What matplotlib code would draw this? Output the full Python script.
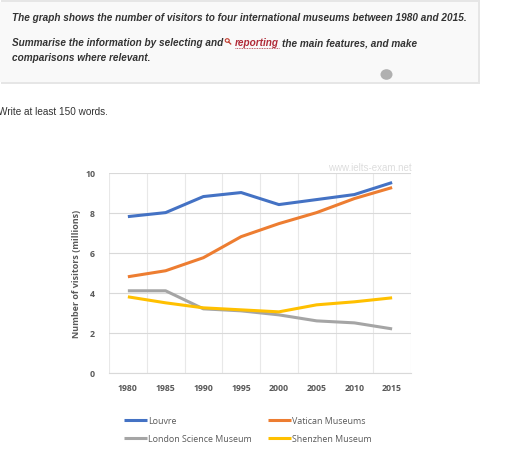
import matplotlib
matplotlib.use("Agg")
import matplotlib.pyplot as plt
from matplotlib.patches import Rectangle, Circle
from matplotlib.lines import Line2D

# data
years = ["1980", "1985", "1990", "1995", "2000", "2005", "2010", "2015"]
louvre = [7.8, 8.0, 8.8, 9.0, 8.4, 8.65, 8.9, 9.5]
vatican = [4.8, 5.1, 5.75, 6.8, 7.45, 8.0, 8.7, 9.25]
london = [4.1, 4.1, 3.2, 3.1, 2.9, 2.6, 2.5, 2.2]
shenzhen = [3.8, 3.5, 3.25, 3.15, 3.05, 3.4, 3.55, 3.75]
names = ["Louvre", "Vatican Museums", "London Science Museum", "Shenzhen Museum"]
colors = ["#4472C4", "#ED7D31", "#A5A5A5", "#FFC000"]

W, H = 512, 452
fig = plt.figure(figsize=(W / 100, H / 100), dpi=100)
fig.patch.set_facecolor("white")


def fx(px):
    return px / W


def fy(py):
    return 1 - py / H


# question box with a soft shadow
fig.patches.append(Rectangle((fx(1), fy(85)), fx(479), 84 / H, transform=fig.transFigure,
                             facecolor="#e6e6e6", edgecolor="none", zorder=0))
fig.patches.append(Rectangle((fx(0), fy(83)), fx(478), 80 / H, transform=fig.transFigure,
                             facecolor="#f9f9f9", edgecolor="none", zorder=1))
fig.patches.append(Circle((fx(386.5), fy(75.5)), 6 / W, transform=fig.transFigure,
                          facecolor="#b0b0b0", edgecolor="none", zorder=2))

bi = dict(family="Liberation Sans", weight="bold", style="italic", fontsize=7.2,
          color="#333333", va="baseline")
fig.text(fx(12), fy(21), "The graph shows the number of visitors to four international museums between 1980 and 2015.", **bi)

r = fig.canvas.get_renderer()
t1 = fig.text(fx(12), fy(46), "Summarise the information by selecting and", **bi)
x_end = t1.get_window_extent(r).x1
# little magnifier icon
fig.patches.append(Circle(((x_end + 4) / W, fy(41.5)), 2.0 / W, transform=fig.transFigure,
                          facecolor="none", edgecolor="#c0392b", lw=0.8, zorder=3))
fig.lines.append(Line2D([(x_end + 5.4) / W, (x_end + 7.5) / W], [fy(43), fy(45)],
                        transform=fig.transFigure, color="#c0392b", lw=0.9))
bi_red = dict(bi)
bi_red["color"] = "#b02a37"
t2 = fig.text((x_end + 12) / W, fy(46), "reporting", **bi_red)
e2 = t2.get_window_extent(r)
fig.lines.append(Line2D([e2.x0 / W, e2.x1 / W], [fy(48.5), fy(48.5)], transform=fig.transFigure,
                        color="#b02a37", lw=0.6, ls=(0, (1, 1))))
fig.text((e2.x1 + 3) / W, fy(46), "the main features, and make", **bi)
fig.text(fx(12), fy(61), "comparisons where relevant.", **bi)

fig.text(fx(-2.5), fy(115), "Write at least 150 words.", family="Liberation Sans",
         fontsize=7.2, color="#333333", va="baseline")

# the chart
ax = fig.add_axes([fx(109), fy(374), fx(302), 200.5 / H])
x = list(range(1, len(years) + 1))
handles = []
for vals, name, c in zip([louvre, vatican, london, shenzhen], names, colors):
    h, = ax.plot(x, vals, color=c, lw=2.2, label=name, solid_capstyle="butt", zorder=3)
    handles.append(h)

ax.set_xlim(0.5, len(years) + 0.5)
ax.set_ylim(0, 10)
ax.set_yticks([0, 2, 4, 6, 8, 10])
ax.set_xticks(x)
ax.set_xticklabels(years)
ax.set_xticks([i + 0.5 for i in range(0, len(years) + 1)], minor=True)
ax.grid(axis="y", color="#d9d9d9", lw=0.8)
ax.grid(axis="x", which="minor", color="#e8e8e8", lw=0.8)
ax.set_axisbelow(True)
for s in ["top", "right", "left"]:
    ax.spines[s].set_visible(False)
ax.spines["bottom"].set_color("#d9d9d9")
ax.tick_params(which="both", length=0)
ax.tick_params(axis="x", pad=7)
ax.tick_params(axis="y", pad=10)
for lab in ax.get_xticklabels() + ax.get_yticklabels():
    lab.set_family("Open Sans")
    lab.set_fontsize(6.3)
    lab.set_weight("bold")
    lab.set_color("#595959")
ax.set_ylabel("Number of visitors (millions)", family="Open Sans", weight="bold",
              fontsize=6.5, color="#595959", labelpad=3)

fig.text(fx(412), fy(171), "www.ielts-exam.net", ha="right", va="baseline",
         family="Liberation Sans", fontsize=7, color="#dddddd")

# two per row: Louvre / Vatican, then London / Shenzhen
order = [0, 2, 1, 3]
fig.legend([handles[i] for i in order], [names[i] for i in order],
           loc="upper left", bbox_to_anchor=(fx(124), fy(417)), ncol=2, frameon=False,
           prop={"family": "Open Sans", "size": 6.4}, labelcolor="#595959",
           handlelength=2.6, handletextpad=0.1, columnspacing=1.8, labelspacing=1.0,
           borderaxespad=0, borderpad=0)

fig.savefig("out.png", dpi=100)
